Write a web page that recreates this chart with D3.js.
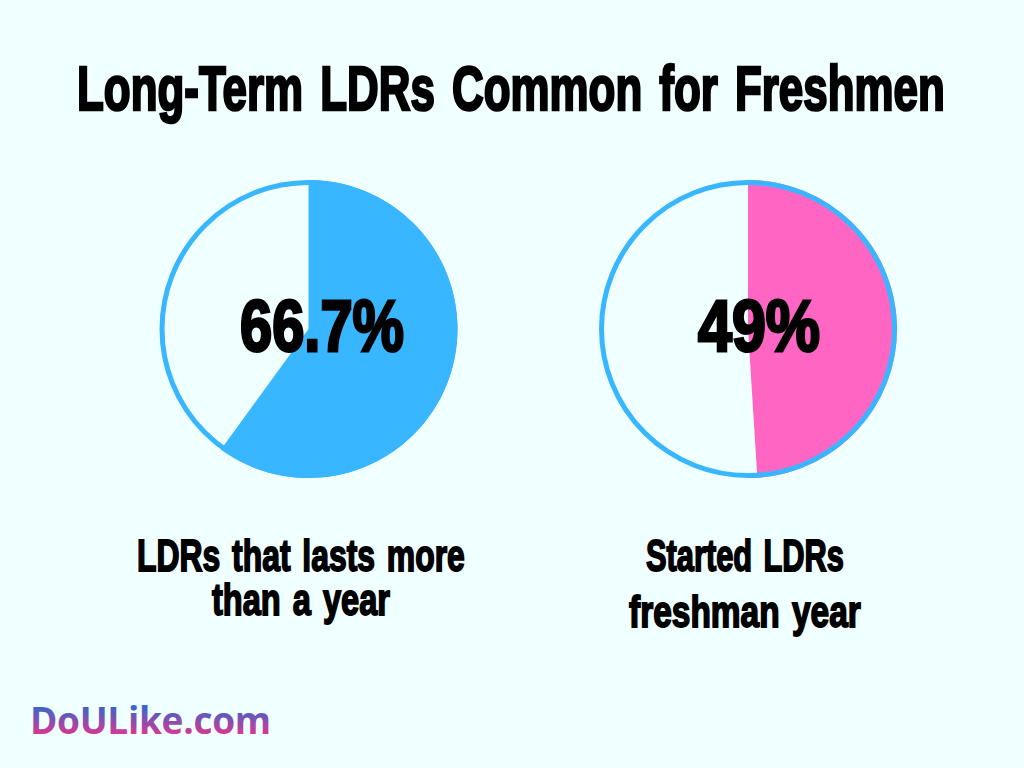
<!DOCTYPE html>
<html>
<head>
<meta charset="utf-8">
<script src="https://cdn.jsdelivr.net/npm/d3@7"></script>
<style>
  html, body { margin: 0; padding: 0; background: #f0ffff; }
  svg { display: block; }
  text { font-family: "Liberation Sans Narrow", "Liberation Sans", sans-serif; font-weight: bold; fill: #000; stroke: #000; }
</style>
</head>
<body>
<div id="chart"></div>
<script>
// slice shares as drawn in the picture (the printed labels differ from the left slice)
const categories = ["LDRs that lasts more than a year", "Started LDRs freshman year"];
const sliceValues = [60, 49];
const centerLabels = ["66.7%", "49%"];
const captionLines = [["LDRs that lasts more", "than a year"], ["Started LDRs", "freshman year"]];
const sliceColors = ["#38b6ff", "#ff66c4"];
const centerX = [308.5, 748];
const centerY = 329;
const outerR = 149;
const ringColor = "#38b6ff";

const svg = d3.select("#chart").append("svg")
    .attr("width", 1024)
    .attr("height", 768);

const defs = svg.append("defs");
const grad = defs.append("linearGradient")
    .attr("id", "logoGrad")
    .attr("gradientUnits", "userSpaceOnUse")
    .attr("x1", 0).attr("x2", 0).attr("y1", 706).attr("y2", 736);
grad.append("stop").attr("offset", "0%").attr("stop-color", "#3566cc");
grad.append("stop").attr("offset", "100%").attr("stop-color", "#e2358f");

// the reference face is a heavy condensed one, so squeeze and fatten what is installed
function fitText(str, x0, x1, baseline, size, sw, wordGap) {
    const t = svg.append("text")
        .attr("x", 0)
        .attr("y", 0)
        .style("font-size", size + "px")
        .style("stroke-width", sw)
        .style("word-spacing", (wordGap || 0) + "px")
        .text(str);
    const sx = (x1 - x0) / t.node().getBBox().width;
    t.attr("transform", `translate(${x0},${baseline}) scale(${sx},1)`);
    return t;
}

fitText("Long-Term LDRs Common for Freshmen", 77, 945, 110, 63, 2.6, 7);

const arc = d3.arc().innerRadius(0).outerRadius(outerR);
const pie = d3.pie().sort(null).value(d => d);

categories.forEach((c, i) => {
    const g = svg.append("g").attr("transform", `translate(${centerX[i]},${centerY})`);
    const slices = pie([sliceValues[i], 100 - sliceValues[i]]);
    g.append("path")
        .attr("d", arc(slices[0]))
        .attr("fill", sliceColors[i]);
    g.append("circle")
        .attr("r", outerR - 2.5)
        .attr("fill", "none")
        .attr("stroke", ringColor)
        .attr("stroke-width", 5);
});

// center numbers
fitText(centerLabels[0], 240, 404, 351, 72, 3);
fitText(centerLabels[1], 698, 820, 351, 72, 3);

// captions
fitText(captionLines[0][0], 137, 465, 571, 44, 1.8, 4);
fitText(captionLines[0][1], 212, 390, 615, 44, 1.8, 4);
fitText(captionLines[1][0], 646, 844, 571, 44, 1.8, 4);
fitText(captionLines[1][1], 629, 861, 627, 44, 1.8, 4);

// logo
svg.append("text")
    .attr("x", 30)
    .attr("y", 734)
    .style("font-family", "'Open Sans', sans-serif")
    .style("font-size", "37px")
    .style("letter-spacing", "-0.3px")
    .style("stroke", "none")
    .style("fill", "url(#logoGrad)")
    .text("DoULike.com");
</script>
</body>
</html>
